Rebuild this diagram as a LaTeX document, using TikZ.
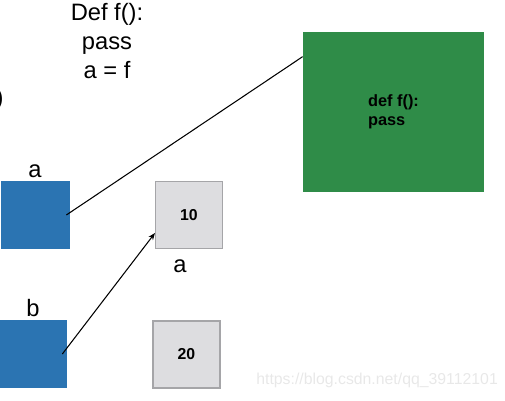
\documentclass[tikz,border=0pt]{standalone}
\usepackage{fontspec}
\setmainfont{Liberation Sans}
\usetikzlibrary{arrows.meta,positioning}
\definecolor{varblue}{RGB}{43,116,178}
\definecolor{objgreen}{RGB}{47,140,72}
\definecolor{objgray}{RGB}{221,221,224}
\definecolor{objedge}{RGB}{165,165,168}
\tikzset{
    varbox/.style={fill=varblue, minimum width=1.38cm, minimum height=1.36cm, inner sep=0pt},
    objbox/.style={draw=objedge, fill=objgray, line width=0.6pt, minimum size=1.34cm, inner sep=0pt, font=\fontsize{9}{11}\selectfont\bfseries},
    funcbox/.style={fill=objgreen, minimum width=3.62cm, minimum height=3.2cm, align=left, font=\fontsize{9.3}{11}\selectfont\bfseries},
    codetext/.style={anchor=base, inner sep=0pt, font=\fontsize{13.5}{16}\selectfont},
    varlabel/.style={anchor=base, inner sep=0pt, font=\fontsize{13.5}{16}\selectfont},
    refline/.style={line width=0.6pt},
    refarrow/.style={-{Stealth[length=1.4mm,width=1.1mm]}, line width=0.6pt}
}
\begin{document}
\begin{tikzpicture}[x=0.02cm, y=-0.02cm]
    \useasboundingbox (0,0) rectangle (505,401);
    % code on the slide
    \node[codetext] (defline) at (107,21) {Def f():};
    \node[codetext] (passline) at (107,50) {pass};
    \node[codetext] (assignline) at (107,79) {a = f};
    \node[codetext, anchor=base east] (paren) at (4,106) {)};
    % function object
    \node[funcbox] (func) at (393.5,112) {def f():\\pass};
    % names
    \node[varbox] (avar) at (35.5,215) {};
    \node[varlabel] (alabel) at (35,178) {a};
    \node[varbox, minimum width=1.34cm] (bvar) at (33.5,354) {};
    \node[varlabel] (blabel) at (33,317) {b};
    % int objects
    \node[objbox] (ten) at (189,215) {10};
    \node[varlabel] (tenlabel) at (180,273) {a};
    \node[objbox] (twenty) at (186.5,354.5) {20};
    \node[anchor=base west, inner sep=0pt, text=black!9, font=\fontsize{9}{11}\selectfont] (mark) at (256,385) {https://blog.csdn.net/qq\_39112101};
    % references
    \draw[refline] ([xshift=-0.08cm]avar.east) -- ([yshift=-0.5cm]func.north west);
    \draw[refarrow] ([xshift=-0.1cm]bvar.east) -- ([yshift=-0.36cm]ten.west);
\end{tikzpicture}
\end{document}
